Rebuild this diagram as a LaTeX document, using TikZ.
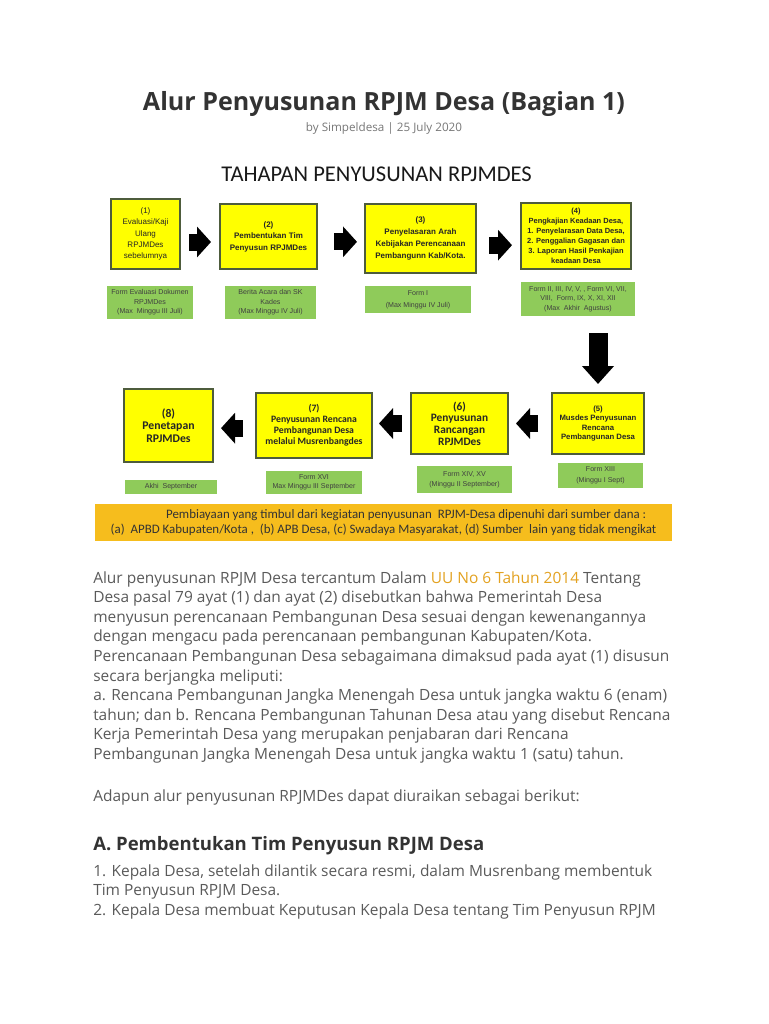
\documentclass[tikz,border=0pt]{standalone}
\usepackage{fontspec}
\setmainfont{Open Sans}
\newfontfamily\arialfont{Liberation Sans}
\newfontfamily\calfont{Carlito}
\usepackage{xcolor}
\usetikzlibrary{arrows.meta, positioning, calc}
\definecolor{stepyellow}{HTML}{FFFF00}
\definecolor{stepborder}{HTML}{4E5C3C}
\definecolor{formgreen}{HTML}{8FCB5A}
\definecolor{fundorange}{HTML}{F6BD1D}
\definecolor{titlegray}{HTML}{333333}
\definecolor{bodygray}{HTML}{5A5A5A}
\definecolor{metagray}{HTML}{777777}
\definecolor{linkorange}{HTML}{E3A221}

\begin{document}
\begin{tikzpicture}[x=0.75pt, y=-0.75pt,
  ybox/.style={draw=stepborder, line width=1.5pt, fill=stepyellow, inner sep=1pt, align=center, text=black!85},
  gbox/.style={fill=formgreen, inner sep=1pt, align=center, text=black!75,
    font=\arialfont\fontsize{5.3}{7.2}\selectfont},
  blockarrow/.style={line width=12.75pt, -{Triangle[length=10.5pt, width=22.5pt]}},
  bodytext/.style={anchor=north west, inner sep=0pt, align=left, text=bodygray,
    font=\fontsize{11.6}{14.7}\selectfont}]
  \fill[white] (0,0) rectangle (768,1024);
  \useasboundingbox (0,0) rectangle (768,1024);

  % page header
  \node[text=titlegray, font=\bfseries\fontsize{18.8}{21}\selectfont] (title) at (384,104) {Alur Penyusunan RPJM Desa (Bagian 1)};
  \node[text=metagray, font=\fontsize{8.75}{10}\selectfont] (meta) at (384,128) {by Simpeldesa | 25 July 2020};
  \node[text=black!90, font=\calfont\fontsize{16.9}{18}\selectfont] (chart) at (376.5,174) {TAHAPAN PENYUSUNAN RPJMDES};

  % first row
  \node[ybox, minimum width=51.75pt, minimum height=52.5pt, font=\arialfont\fontsize{6}{8.5}\selectfont] (b1) at (145.5,234)
    {(1)\\Evaluasi/Kaji\\Ulang\\RPJMDes\\sebelumnya};
  \node[ybox, minimum width=72.75pt, minimum height=48.75pt, font=\arialfont\bfseries\fontsize{6}{8.6}\selectfont] (b2) at (268.5,236.5)
    {(2)\\Pembentukan Tim\\Penyusun RPJMDes};
  \node[ybox, minimum width=83.25pt, minimum height=51.75pt, font=\arialfont\bfseries\fontsize{6}{9}\selectfont] (b3) at (420.5,238.5)
    {(3)\\Penyelasaran Arah\\Kebijakan Perencanaan\\Pembangunn Kab/Kota.};
  \node[ybox, minimum width=82.5pt, minimum height=49.5pt, font=\arialfont\bfseries\fontsize{5.6}{7.5}\selectfont] (b4) at (576,236)
    {(4)\\Pengkajian Keadaan Desa,\\1. Penyelarasan Data Desa,\\2. Penggalian Gagasan dan\\3. Laporan Hasil Penkajian\\keadaan Desa};

  \node[gbox, minimum width=64.5pt, minimum height=24.75pt] (g1) at (150,302.5)
    {Form Evaluasi Dokumen\\RPJMDes\\(Max\ \ Minggu III Juli)};
  \node[gbox, minimum width=68.25pt, minimum height=24.75pt] (g2) at (270.5,302.5)
    {Berita Acara dan SK\\Kades\\(Max Minggu IV Juli)};
  \node[gbox, minimum width=79.5pt, minimum height=20.25pt, font=\arialfont\fontsize{5.3}{9}\selectfont] (g3) at (418,299.5)
    {Form I\\(Max Minggu IV Juli)};
  \node[gbox, minimum width=85.5pt, minimum height=25.5pt] (g4) at (578,299)
    {Form II, III, IV, V, , Form VI, VII,\\VIII,\ \ Form, IX, X, XI, XII\\(Max\ \ Akhir\ \ Agustus)};

  % second row
  \node[ybox, minimum width=69pt, minimum height=45.75pt, font=\arialfont\bfseries\fontsize{5.8}{7}\selectfont] (b5) at (598,423.5)
    {(5)\\Musdes Penyusunan\\Rencana\\Pembangunan Desa};
  \node[ybox, minimum width=72.75pt, minimum height=45.75pt, font=\calfont\bfseries\fontsize{8.5}{8.7}\selectfont] (b6) at (459.5,423.5)
    {(6)\\Penyusunan\\Rancangan\\RPJMDes};
  \node[ybox, minimum width=87pt, minimum height=48.75pt, font=\calfont\bfseries\fontsize{7.3}{8.2}\selectfont] (b7) at (314,425.5)
    {(7)\\Penyusunan Rencana\\Pembangunan Desa\\melalui Musrenbangdes};
  \node[ybox, minimum width=66.75pt, minimum height=54.75pt, font=\calfont\bfseries\fontsize{8.8}{9.6}\selectfont] (b8) at (168.5,425.5)
    {(8)\\Penetapan\\RPJMDes};

  \node[gbox, minimum width=63.75pt, minimum height=18.75pt, font=\arialfont\fontsize{5.3}{8}\selectfont] (g5) at (600.5,475.5)
    {Form XIII\\(Minggu I Sept)};
  \node[gbox, minimum width=71.25pt, minimum height=20.25pt, font=\arialfont\fontsize{5.3}{7.5}\selectfont] (g6) at (464.5,479.5)
    {Form XIV, XV\\(Minggu II September)};
  \node[gbox, minimum width=72pt, minimum height=17.25pt, font=\arialfont\fontsize{5.3}{6.8}\selectfont] (g7) at (314,482.5)
    {Form XVI\\Max Minggu III September};
  \node[gbox, minimum width=69pt, minimum height=10.5pt] (g8) at (171,487)
    {Akhi\ \ September};

  % arrows
  \draw[blockarrow, shorten <=6pt, shorten >=6pt] ([yshift=-6pt]b1.east) -- ([yshift=-6pt]b1.east -| b2.west);
  \draw[blockarrow, shorten <=12pt, shorten >=5.25pt] ([yshift=-4pt]b2.east) -- ([yshift=-4pt]b2.east -| b3.west);
  \draw[blockarrow, shorten <=9pt, shorten >=6pt] ([yshift=-5pt]b3.east) -- ([yshift=-5pt]b3.east -| b4.west);
  \draw[line width=14.25pt, -{Triangle[length=13.5pt, width=23.25pt]}, shorten <=12.75pt, shorten >=6pt] (b5.north |- g4.south) -- (b5.north);
  \draw[blockarrow, shorten <=9.75pt, shorten >=5.25pt] (b5.west) -- (b5.west -| b6.east);
  \draw[blockarrow, shorten <=6pt, shorten >=4.5pt] (b6.west) -- (b6.west -| b7.east);
  \draw[blockarrow, shorten <=9pt, shorten >=5.25pt] ([yshift=-2pt]b7.west) -- ([yshift=-2pt]b7.west -| b8.east);

  % funding note
  \node[fill=fundorange, minimum width=432.75pt, minimum height=27.75pt, inner sep=0pt, align=center, text=black!80,
    font=\calfont\fontsize{9.7}{11}\selectfont] (fund) at (383.5,522.5)
    {\hspace*{34pt}Pembiayaan yang timbul dari kegiatan penyusunan\ \ RPJM-Desa dipenuhi dari sumber dana :\\
     (a)\ \ APBD Kabupaten/Kota ,\ \ (b) APB Desa, (c) Swadaya Masyarakat, (d) Sumber\ \ lain yang tidak mengikat};

  % article text
  \node[bodytext] (para1) at (93,571)
    {Alur penyusunan RPJM Desa tercantum Dalam \textcolor{linkorange}{UU No 6 Tahun 2014} Tentang\\
     Desa pasal 79 ayat (1) dan ayat (2) disebutkan bahwa Pemerintah Desa\\
     menyusun perencanaan Pembangunan Desa sesuai dengan kewenangannya\\
     dengan mengacu pada perencanaan pembangunan Kabupaten/Kota.\\
     Perencanaan Pembangunan Desa sebagaimana dimaksud pada ayat (1) disusun\\
     secara berjangka meliputi:\\
     a. Rencana Pembangunan Jangka Menengah Desa untuk jangka waktu 6 (enam)\\
     tahun; dan b. Rencana Pembangunan Tahunan Desa atau yang disebut Rencana\\
     Kerja Pemerintah Desa yang merupakan penjabaran dari Rencana\\
     Pembangunan Jangka Menengah Desa untuk jangka waktu 1 (satu) tahun.};
  \node[bodytext] (para2) at (93,789)
    {Adapun alur penyusunan RPJMDes dapat diuraikan sebagai berikut:};
  \node[anchor=west, inner sep=0pt, text=titlegray, font=\bfseries\fontsize{13.9}{17}\selectfont] (secA) at (93,846)
    {A. Pembentukan Tim Penyusun RPJM Desa};
  \node[bodytext] (para3) at (93,864)
    {1. Kepala Desa, setelah dilantik secara resmi, dalam Musrenbang membentuk\\
     Tim Penyusun RPJM Desa.\\
     2. Kepala Desa membuat Keputusan Kepala Desa tentang Tim Penyusun RPJM};
\end{tikzpicture}
\end{document}
